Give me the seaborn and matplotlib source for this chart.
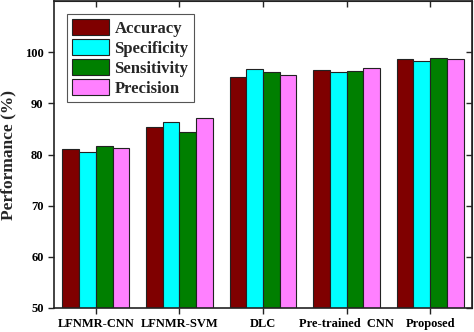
import matplotlib
matplotlib.use("Agg")
import matplotlib.pyplot as plt
import seaborn as sns
import pandas as pd

methods = ["LFNMR-CNN", "LFNMR-SVM", "DLC", "Pre-trained  CNN", "Proposed"]
metrics = ["Accuracy", "Specificity", "Sensitivity", "Precision"]
accuracy = [81.0, 85.4, 95.2, 96.5, 98.6]
specificity = [80.5, 86.4, 96.8, 96.2, 98.2]
sensitivity = [81.7, 84.3, 96.1, 96.3, 98.8]
precision = [81.3, 87.1, 95.6, 97.0, 98.6]
colors = ["#7f0000", "#00ffff", "#007f00", "#ff80ff"]
yticks = [50, 60, 70, 80, 90, 100]

series = {"Accuracy": accuracy, "Specificity": specificity,
          "Sensitivity": sensitivity, "Precision": precision}
rows = []
for m in metrics:
    for meth, v in zip(methods, series[m]):
        rows.append({"Method": meth, "Metric": m, "Value": v})
df = pd.DataFrame(rows)

sns.set_style("ticks")
plt.rcParams["font.family"] = ["Liberation Serif", "DejaVu Serif"]
plt.rcParams["font.weight"] = "bold"

fig = plt.figure(figsize=(4.74, 3.32), dpi=100)
ax = fig.add_axes([54/474, 1 - 308/332, 418/474, 307/332])

sns.barplot(data=df, x="Method", y="Value", hue="Metric", order=methods,
            hue_order=metrics, palette=colors, width=0.8, saturation=1,
            edgecolor="#222222", linewidth=0.8, ax=ax, legend=True)

ax.set_ylim(50, 110)
ax.set_xlim(-0.5, 4.5)
ax.set_yticks(yticks)
ax.set_xlabel("")
ax.set_ylabel("Performance (%)", fontsize=12.5, fontweight="bold", labelpad=6)
for s in ax.spines.values():
    s.set_visible(True)
    s.set_linewidth(1.2)
    s.set_color("#222222")
ax.tick_params(axis="both", direction="out", length=4, width=1.0,
               labelsize=9, colors="#222222")
for lab in ax.get_xticklabels() + ax.get_yticklabels():
    lab.set_fontweight("bold")
    lab.set_color("black")

secx = ax.secondary_xaxis("top")
secx.set_xticks(range(len(methods)))
secx.tick_params(direction="in", length=4, width=1.0, labeltop=False)
secy = ax.secondary_yaxis("right")
secy.set_yticks(yticks)
secy.tick_params(direction="in", length=4, width=1.0, labelright=False)

leg = ax.legend(loc="upper left", bbox_to_anchor=(0.031, 0.958),
                borderaxespad=0, fancybox=False, framealpha=1,
                edgecolor="#555555", prop={"weight": "bold", "size": 12},
                handlelength=2.2, handleheight=1.1, labelspacing=0.15,
                handletextpad=0.35, borderpad=0.3)
leg.get_frame().set_linewidth(0.8)

fig.savefig("out.png", dpi=100)
